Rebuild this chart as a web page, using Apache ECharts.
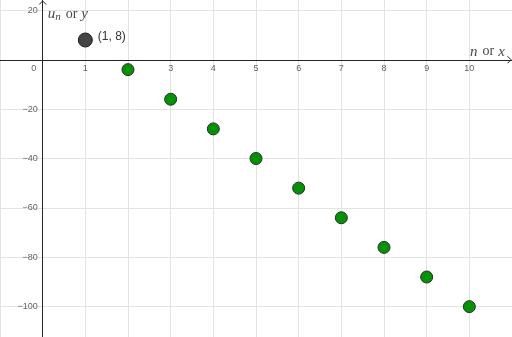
<!DOCTYPE html>
<html><head><meta charset="utf-8">
<script src="https://cdn.jsdelivr.net/npm/echarts@6/dist/echarts.min.js"></script>
<style>html,body{margin:0;padding:0;background:#fff}#c{width:512px;height:337px}</style>
</head><body><div id="c"></div>
<script>
// Sequence u_n: first term highlighted, remaining terms in green
const nValues = [2, 3, 4, 5, 6, 7, 8, 9, 10];
const uValues = [-4, -16, -28, -40, -52, -64, -76, -88, -100];
const firstPoint = [1, 8];
const firstLabel = '(1, 8)';
const xTickLabels = [1, 2, 3, 4, 5, 6, 7, 8, 9, 10];
const yTickLabels = [20, -20, -40, -60, -80, -100];

const chart = echarts.init(document.getElementById('c'), null, {renderer: 'canvas'});
const sansFont = 'Liberation Sans, Arial, sans-serif';
const serifFont = 'Liberation Serif, Times New Roman, serif';
const fmtNum = v => (v < 0 ? '\u2212' + (-v) : String(v));

chart.setOption({
  animation: false,
  backgroundColor: '#fff',
  grid: {left: 0, right: 0, top: -39, bottom: -19, containLabel: false, outerBoundsMode: 'none'},
  xAxis: {
    type: 'value', min: -1, max: 11, interval: 1,
    axisLine: {show: true, onZero: true, lineStyle: {color: '#252525', width: 1}},
    axisTick: {show: false},
    splitLine: {show: true, lineStyle: {color: '#e3e3e3', width: 1}},
    axisLabel: {show: false}
  },
  yAxis: {
    type: 'value', min: -120, max: 40, interval: 20,
    axisLine: {show: true, onZero: true, lineStyle: {color: '#252525', width: 1}},
    axisTick: {show: false},
    splitLine: {show: true, lineStyle: {color: '#e3e3e3', width: 1}},
    axisLabel: {show: false}
  },
  series: [
    {
      type: 'scatter', z: 1, silent: true, symbolSize: 0,
      data: xTickLabels.map(v => [v, 0]),
      label: {show: true, position: 'bottom', distance: 4, formatter: p => String(p.value[0]),
        fontFamily: sansFont, fontSize: 9, color: '#3a3a3a'}
    },
    {
      type: 'scatter', z: 1, silent: true, symbolSize: 0,
      data: yTickLabels.map(v => [0, v]),
      label: {show: true, position: 'left', distance: 5, formatter: p => fmtNum(p.value[1]),
        fontFamily: sansFont, fontSize: 9, color: '#3a3a3a'}
    },
    {
      type: 'scatter', z: 1, silent: true, symbolSize: 0,
      data: [[0, 0]],
      label: {show: true, position: 'bottom', distance: 4, offset: [-9, 0], formatter: '0',
        fontFamily: sansFont, fontSize: 9, color: '#3a3a3a'}
    },
    {
      type: 'scatter', z: 5,
      data: nValues.map((n, i) => [n, uValues[i]]),
      symbolSize: 12,
      itemStyle: {color: '#009400', borderColor: '#2b2b2b', borderWidth: 1, opacity: 1}
    },
    {
      type: 'scatter', z: 5,
      data: [firstPoint],
      symbolSize: 14,
      itemStyle: {color: '#444', borderColor: '#1e1e1e', borderWidth: 1, opacity: 1,
        decal: {symbol: 'circle', symbolSize: 0.5, color: 'rgba(140,140,140,0.7)', dashArrayX: [2, 0], dashArrayY: [2, 0], rotation: 0}},
      label: {show: true, position: 'right', distance: 5, offset: [0, -3], formatter: firstLabel,
        fontFamily: sansFont, fontSize: 12, color: '#333'}
    }
  ]
});

const o = chart.convertToPixel({gridIndex: 0}, [0, 0]);
const W = 512;
chart.setOption({
  graphic: [
    {type: 'polyline', shape: {points: [[o[0] - 3.5, 4.5], [o[0], 1], [o[0] + 3.5, 4.5]]},
      style: {stroke: '#252525', lineWidth: 1, fill: null}, z: 10},
    {type: 'polyline', shape: {points: [[W - 4.5, o[1] - 3.5], [W - 1, o[1]], [W - 4.5, o[1] + 3.5]]},
      style: {stroke: '#252525', lineWidth: 1, fill: null}, z: 10},
    {type: 'text', x: o[0] + 5, y: 14, z: 10,
      style: {
        text: '{i|u}{s|n}{r|or}{i|y}', verticalAlign: 'middle', align: 'left',
        rich: {
          i: {fontFamily: serifFont, fontStyle: 'italic', fontSize: 15, fill: '#4a4a4a', lineHeight: 17, verticalAlign: 'middle'},
          s: {fontFamily: serifFont, fontStyle: 'italic', fontSize: 11, fill: '#4a4a4a', lineHeight: 17, verticalAlign: 'bottom'},
          r: {fontFamily: serifFont, fontSize: 14, fill: '#4a4a4a', lineHeight: 17, verticalAlign: 'middle', padding: [0, 4, 0, 5]}
        }
      }},
    {type: 'text', x: 470, y: o[1] - 8, z: 10,
      style: {
        text: '{i|n}{r|or}{i|x}', verticalAlign: 'middle', align: 'left',
        rich: {
          i: {fontFamily: serifFont, fontStyle: 'italic', fontSize: 15, fill: '#4a4a4a'},
          r: {fontFamily: serifFont, fontSize: 14, fill: '#4a4a4a', padding: [0, 4, 0, 5]}
        }
      }}
  ]
});
</script>
</body></html>
